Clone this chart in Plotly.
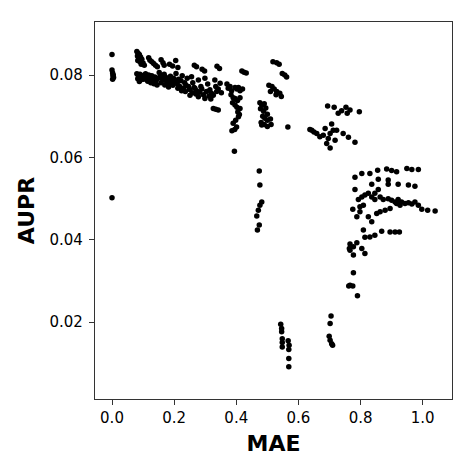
import plotly.graph_objects as go

# MAE / AUPR pairs, grouped by the clusters seen in the chart
mae_zero = [0.000, 0.000, 0.002, 0.003, 0.005, 0.002, 0.004, 0.000]
aupr_zero = [0.0850, 0.0812, 0.0805, 0.0798, 0.0794, 0.0790, 0.0800, 0.0502]

mae_top = [0.080, 0.084, 0.088, 0.082, 0.092, 0.086, 0.096, 0.083, 0.090, 0.100, 0.094, 0.104,
           0.118, 0.122, 0.128, 0.134, 0.140, 0.146, 0.158, 0.164, 0.168,
           0.205, 0.212, 0.185, 0.195, 0.265, 0.272, 0.290, 0.298, 0.338, 0.346,
           0.418, 0.425, 0.432]
aupr_top = [0.0857, 0.0853, 0.0850, 0.0846, 0.0844, 0.0840, 0.0838, 0.0835, 0.0832, 0.0829, 0.0826, 0.0824,
            0.0842, 0.0836, 0.0832, 0.0828, 0.0824, 0.0820, 0.0837, 0.0830, 0.0824,
            0.0835, 0.0818, 0.0826, 0.0822, 0.0824, 0.0820, 0.0814, 0.0810, 0.0821, 0.0816,
            0.0810, 0.0807, 0.0805]

mae_band = [0.080, 0.085, 0.090, 0.095, 0.100, 0.083, 0.092, 0.102, 0.088,
            0.108, 0.112, 0.118, 0.122, 0.128, 0.132, 0.138, 0.142, 0.148, 0.115, 0.125, 0.135, 0.145,
            0.152, 0.156, 0.160, 0.164, 0.168, 0.172, 0.176, 0.180, 0.184, 0.188, 0.192, 0.196, 0.158, 0.170, 0.182, 0.198,
            0.202, 0.206, 0.210, 0.214, 0.218, 0.222, 0.226, 0.230, 0.234, 0.238, 0.242, 0.246, 0.250, 0.212, 0.224, 0.236,
            0.251, 0.256, 0.260, 0.264, 0.267, 0.272, 0.278, 0.278, 0.282, 0.286, 0.289, 0.294, 0.299, 0.299, 0.258, 0.270,
            0.304, 0.308, 0.312, 0.315, 0.320, 0.326, 0.331, 0.334, 0.337, 0.342, 0.348, 0.352, 0.326, 0.334, 0.342, 0.318]
aupr_band = [0.0803, 0.0798, 0.0802, 0.0795, 0.0799, 0.0791, 0.0788, 0.0790, 0.0784,
             0.0803, 0.0796, 0.0800, 0.0792, 0.0798, 0.0789, 0.0795, 0.0786, 0.0792, 0.0785, 0.0781, 0.0779, 0.0776,
             0.0806, 0.0799, 0.0793, 0.0788, 0.0802, 0.0795, 0.0784, 0.0790, 0.0779, 0.0797, 0.0786, 0.0775, 0.0781, 0.0776, 0.0771, 0.0792,
             0.0783, 0.0804, 0.0779, 0.0790, 0.0772, 0.0786, 0.0798, 0.0768, 0.0781, 0.0775, 0.0792, 0.0772, 0.0765, 0.0768, 0.0762, 0.0760,
             0.0751, 0.0796, 0.0781, 0.0770, 0.0768, 0.0762, 0.0788, 0.0747, 0.0758, 0.0772, 0.0766, 0.0752, 0.0792, 0.0743, 0.0757, 0.0754,
             0.0760, 0.0778, 0.0749, 0.0764, 0.0756, 0.0751, 0.0788, 0.0772, 0.0760, 0.0766, 0.0780, 0.0757, 0.0719, 0.0717, 0.0715, 0.0742]

mae_col40 = [0.370, 0.374, 0.380, 0.385, 0.396, 0.402, 0.407, 0.412, 0.420,
             0.383, 0.390, 0.396, 0.404, 0.412, 0.388, 0.396, 0.402, 0.412, 0.405, 0.410, 0.407,
             0.398, 0.390, 0.401, 0.395, 0.386, 0.394]
aupr_col40 = [0.0778, 0.0768, 0.0772, 0.0762, 0.0770, 0.0766, 0.0770, 0.0762, 0.0766,
              0.0752, 0.0745, 0.0743, 0.0738, 0.0745, 0.0733, 0.0727, 0.0722, 0.0719, 0.0710, 0.0704, 0.0699,
              0.0690, 0.0683, 0.0674, 0.0668, 0.0665, 0.0615]

mae_col50 = [0.518, 0.530, 0.538, 0.548, 0.556, 0.562,
             0.505, 0.515, 0.522, 0.530, 0.540, 0.510, 0.528, 0.545,
             0.476, 0.482, 0.490, 0.478, 0.488, 0.495, 0.500, 0.485, 0.492, 0.500, 0.510,
             0.480, 0.490, 0.482, 0.500, 0.512, 0.566]
aupr_col50 = [0.0832, 0.0830, 0.0826, 0.0804, 0.0800, 0.0795,
              0.0775, 0.0772, 0.0766, 0.0760, 0.0756, 0.0760, 0.0752, 0.0748,
              0.0733, 0.0727, 0.0730, 0.0718, 0.0712, 0.0720, 0.0705, 0.0700, 0.0695, 0.0690, 0.0693,
              0.0685, 0.0680, 0.0679, 0.0675, 0.0680, 0.0674]

mae_drop47 = [0.474, 0.476, 0.482, 0.476, 0.471, 0.466, 0.474, 0.468]
aupr_drop47 = [0.0567, 0.0533, 0.0492, 0.0484, 0.0472, 0.0458, 0.0436, 0.0424]

mae_low55 = [0.543, 0.546, 0.546, 0.548, 0.548, 0.548, 0.567, 0.570, 0.569, 0.569, 0.569]
aupr_low55 = [0.0195, 0.0185, 0.0177, 0.0160, 0.0151, 0.0140, 0.0155, 0.0144, 0.0134, 0.0112, 0.0092]

mae_low70 = [0.705, 0.702, 0.699, 0.702, 0.707, 0.710]
aupr_low70 = [0.0215, 0.0197, 0.0166, 0.0156, 0.0148, 0.0144]

mae_mid70 = [0.643, 0.659, 0.669, 0.686, 0.696, 0.702, 0.707, 0.712, 0.691, 0.702, 0.718, 0.723,
             0.744, 0.761, 0.782, 0.680, 0.637, 0.650,
             0.694, 0.715, 0.728, 0.739, 0.753, 0.757, 0.766, 0.796]
aupr_mid70 = [0.0666, 0.0658, 0.0650, 0.0670, 0.0646, 0.0658, 0.0681, 0.0666, 0.0634, 0.0623, 0.0642, 0.0666,
              0.0658, 0.0649, 0.0637, 0.0654, 0.0668, 0.0662,
              0.0725, 0.0722, 0.0707, 0.0713, 0.0722, 0.0707, 0.0715, 0.0711]

mae_right = [0.804, 0.830, 0.855, 0.884, 0.900, 0.916, 0.949, 0.965, 0.986,
             0.782, 0.857, 0.889, 0.836, 0.889, 0.921, 0.954, 0.975, 0.782, 0.857,
             0.793, 0.804, 0.814, 0.825, 0.836, 0.846, 0.846, 0.863, 0.873, 0.889, 0.900, 0.911,
             0.916, 0.921, 0.927, 0.932, 0.943, 0.954, 0.965, 0.975, 0.986, 0.997, 1.016, 1.040,
             0.775, 0.798, 0.809, 0.798, 0.788, 0.825, 0.836, 0.852, 0.863, 0.879, 0.895,
             0.809, 0.830, 0.814, 0.846, 0.868, 0.895, 0.911, 0.925,
             0.766, 0.777, 0.788, 0.804, 0.766, 0.777, 0.814, 0.764,
             0.777, 0.766, 0.775, 0.790, 0.762]
aupr_right = [0.0561, 0.0561, 0.0569, 0.0572, 0.0568, 0.0565, 0.0573, 0.0571, 0.0571,
              0.0552, 0.0547, 0.0545, 0.0535, 0.0535, 0.0535, 0.0533, 0.0530, 0.0522, 0.0522,
              0.0498, 0.0504, 0.0509, 0.0513, 0.0504, 0.0498, 0.0513, 0.0504, 0.0498, 0.0500, 0.0496, 0.0492,
              0.0488, 0.0498, 0.0484, 0.0492, 0.0488, 0.0490, 0.0487, 0.0492, 0.0484, 0.0474, 0.0472, 0.0470,
              0.0474, 0.0480, 0.0484, 0.0468, 0.0456, 0.0456, 0.0444, 0.0464, 0.0468, 0.0472, 0.0476,
              0.0424, 0.0407, 0.0406, 0.0411, 0.0421, 0.0419, 0.0419, 0.0419,
              0.0390, 0.0383, 0.0393, 0.0379, 0.0375, 0.0363, 0.0367, 0.0379,
              0.0320, 0.0290, 0.0288, 0.0264, 0.0288]

mae = (mae_zero + mae_top + mae_band + mae_col40 + mae_col50 + mae_drop47
       + mae_low55 + mae_low70 + mae_mid70 + mae_right)
aupr = (aupr_zero + aupr_top + aupr_band + aupr_col40 + aupr_col50 + aupr_drop47
        + aupr_low55 + aupr_low70 + aupr_mid70 + aupr_right)

x_ticks = [0.0, 0.2, 0.4, 0.6, 0.8, 1.0]
y_ticks = [0.02, 0.04, 0.06, 0.08]

fig = go.Figure()
fig.add_trace(go.Scatter(x=mae, y=aupr, mode='markers',
                         marker=dict(size=5.5, color='black', line=dict(width=0)),
                         showlegend=False))

# page body adds ~8px offset, so the figure is a bit smaller than the window
fig.update_layout(
    width=466, height=466,
    margin=dict(l=87, r=22, t=14, b=75),
    paper_bgcolor='white',
    plot_bgcolor='white',
    font=dict(family="DejaVu Sans", size=15, color="black"),
)
axis_style = dict(showgrid=False, zeroline=False, showline=True, mirror=True,
                  linecolor='#333333', linewidth=1.3,
                  ticks='outside', ticklen=5, tickwidth=1.1, tickcolor='#333333',
                  tickfont=dict(size=15, family="DejaVu Sans", color='black'))
fig.update_xaxes(range=[-0.0547, 1.0943], tickvals=x_ticks,
                 ticktext=['%.1f' % v for v in x_ticks],
                 title=dict(text='<b>MAE</b>', font=dict(size=22), standoff=9),
                 **axis_style)
fig.update_yaxes(range=[0.00137, 0.09287], tickvals=y_ticks,
                 ticktext=['%.2f' % v for v in y_ticks], ticklabelstandoff=3,
                 title=dict(text='<b>AUPR</b>', font=dict(size=22), standoff=8),
                 **axis_style)

fig.write_html("out.html")
